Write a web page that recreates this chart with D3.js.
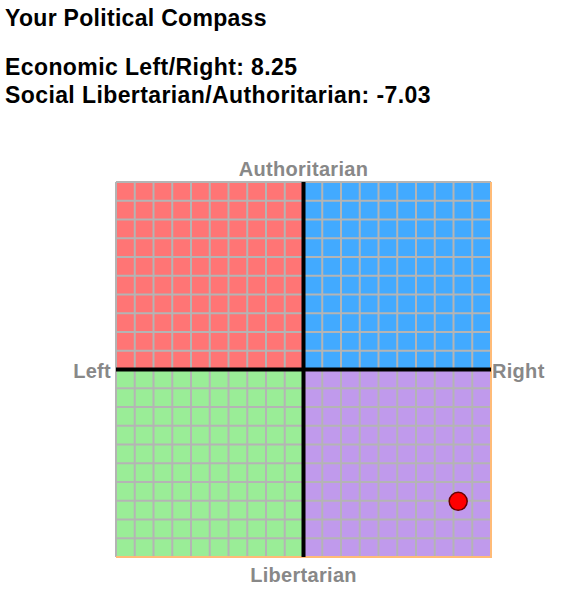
<!DOCTYPE html>
<html><head><meta charset="utf-8">
<script src="https://cdn.jsdelivr.net/npm/d3@7"></script>
<style>
body{margin:0;font-family:"Liberation Sans",Arial,sans-serif;background:#fff}
h1{font-size:23px;margin:0;position:absolute;left:5px;top:5px;letter-spacing:0.3px}
h2{font-size:23px;margin:0;position:absolute;left:5px;top:53px;line-height:28px;letter-spacing:0.4px}
svg{position:absolute;left:0;top:0}
</style></head><body>
<h1>Your Political Compass</h1>
<h2>Economic Left/Right: 8.25<br>Social Libertarian/Authoritarian: -7.03</h2>
<script>
"use strict";
var economic = 8.25, social = -7.03;
var quadrants = [
  {x0: -10, y0: 0, color: "#ff7575"},
  {x0: 0, y0: 0, color: "#42aaff"},
  {x0: -10, y0: -10, color: "#9aed97"},
  {x0: 0, y0: -10, color: "#c09aec"}
];
var ticks = d3.range(-10, 10.5, 1);

var svg = d3.select("body").append("svg").attr("width", 585).attr("height", 605);
var x = d3.scaleLinear().domain([-10, 10]).range([116, 491]),
    y = d3.scaleLinear().domain([-10, 10]).range([557, 182]);

svg.selectAll("rect.q").data(quadrants).enter().append("rect")
  .attr("x", d => x(d.x0)).attr("y", d => y(d.y0 + 10))
  .attr("width", x(10) - x(0)).attr("height", y(0) - y(10))
  .attr("fill", d => d.color);

svg.selectAll("line.v").data(ticks).enter().append("line")
  .attr("x1", d => x(d)).attr("x2", d => x(d)).attr("y1", y(10)).attr("y2", y(-10))
  .attr("stroke", "#b4b4b4").attr("stroke-width", 2);
svg.selectAll("line.h").data(ticks).enter().append("line")
  .attr("y1", d => y(d)).attr("y2", d => y(d)).attr("x1", x(-10)).attr("x2", x(10))
  .attr("stroke", "#b4b4b4").attr("stroke-width", 2);
// orange edges bottom/right
svg.append("path").attr("d", `M${x(10)},${y(10)}V${y(-10)}H${x(-10)}`)
  .attr("fill", "none").attr("stroke", "#ffbb77").attr("stroke-width", 2);

svg.append("line").attr("x1", x(0)).attr("x2", x(0)).attr("y1", y(10)).attr("y2", y(-10))
  .attr("stroke", "#000").attr("stroke-width", 4);
svg.append("line").attr("y1", y(0)).attr("y2", y(0)).attr("x1", x(-10)).attr("x2", x(10))
  .attr("stroke", "#000").attr("stroke-width", 4);

var lab = {fill: "#888", "font-size": "20px", "font-weight": "bold", "letter-spacing": "0.3px"};
function label(t, px, py, anchor) {
  var e = svg.append("text").attr("x", px).attr("y", py).attr("text-anchor", anchor).text(t);
  for (var k in lab) e.attr(k, lab[k]);
}
label("Authoritarian", x(0), 176, "middle");
label("Libertarian", x(0), 582, "middle");
label("Left", 111, y(0) + 8, "end");
label("Right", 492, y(0) + 8, "start");

svg.append("circle").attr("cx", x(economic)).attr("cy", y(social)).attr("r", 9)
  .attr("fill", "#f00").attr("stroke", "#600").attr("stroke-width", 1.5);
</script>
</body></html>
